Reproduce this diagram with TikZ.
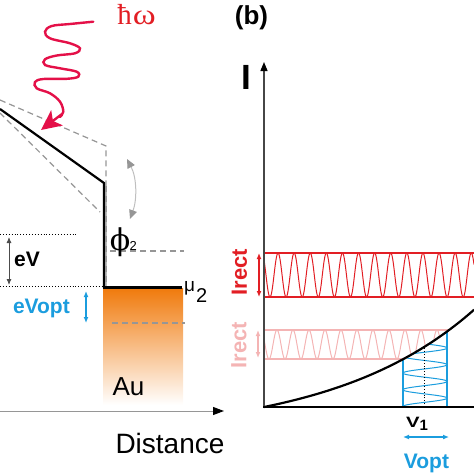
\documentclass[tikz,border=0pt]{standalone}
\usepackage{fontspec}
\setmainfont{Liberation Sans}
\newfontfamily\serifff{Liberation Serif}
\newfontfamily\dvserif{DejaVu Serif}
\usetikzlibrary{arrows.meta}
\definecolor{mred}{RGB}{226,30,36}
\definecolor{mpink}{RGB}{244,180,180}
\definecolor{mblue}{RGB}{27,157,222}
\definecolor{morange}{RGB}{240,122,12}
\definecolor{mcrimson}{RGB}{228,16,72}
\definecolor{mgray}{RGB}{150,150,150}
\definecolor{maxis}{RGB}{70,70,70}
\tikzset{
  txt/.style={inner sep=0pt, outer sep=0pt},
  gdash/.style={mgray, line width=1.2pt, dash pattern=on 6pt off 4pt},
  dbl/.style={{Latex[length=6pt,width=5pt]}-{Latex[length=6pt,width=5pt]}},
}
\newcommand{\ivcurve}{407-29*(exp(0.007*(\x-264))-1)}
\begin{document}
\begin{tikzpicture}[x=1pt,y=-1pt]
\useasboundingbox (0,0) rectangle (474,474);
% ---------------- panel a ----------------
\shade[top color=morange, bottom color=white] (103,288) rectangle (183,405);
\draw[gdash] (0,100) -- (106,146) -- (106,287);
\draw[gdash] (0,113) -- (100,212);
\draw[line width=2.2pt] (0,109) -- (104,183) -- (104,288);
\draw[gdash] (106,186) -- (106,287);
\draw[line width=3pt] (103,287) -- (182,287);
\draw[gdash] (110,251) -- (184,251);
\draw[gdash] (112,323) -- (185,323);
\draw[black!25, line width=1pt, {Triangle[length=9pt,width=8pt,color=mgray]}-{Triangle[length=9pt,width=8pt,color=mgray]}]
  (127,159) .. controls (137,178) and (137,200) .. (130,219);
\draw[dotted, line width=0.9pt] (0,234) -- (77,234);
\draw[dotted, line width=0.9pt] (0,286) -- (103,286);
\draw[dbl, black!70, line width=0.8pt] (9,237) -- (9,285);
\draw[dbl, mblue, line width=1.3pt] (86,291) -- (86,323);
\draw[mgray, line width=1pt, -{Triangle[length=11pt,width=8pt,color=black]}] (0,411) -- (224,411);
% photon
\draw[mcrimson, line width=2.4pt, line cap=round] plot[smooth, tension=0.6] coordinates {
 (93.3,21.7) (70,24) (51.7,26) (45,31.7) (50,38.3) (70,43.3) (80,48.3) (75,53.3)
 (56.7,55.5) (45,59.3) (45,65) (60,68.3) (76.7,71.7) (78.3,76.7) (66.7,78.8)
 (43.3,79) (35,82) (36.7,88.3) (50,93.3) (60,101.7) (63.3,111.7) (60,117)};
\draw[mcrimson, line width=2.4pt, -{Stealth[length=20pt,width=19pt,inset=5pt]}] (62,114) -- (41,130);
\node[txt, mred, font=\serifff\fontsize{29}{31}\selectfont] (hw) at (136.5,15) {ħ\kern1pt\scalebox{1.2}[1]{ω}};
\node[txt, font=\dvserif\fontsize{30}{32}\selectfont] (phi) at (120,242.5) {ϕ};
\node[txt, anchor=base west, font=\fontsize{13}{14}\selectfont] (phisub) at (129.5,250) {2};
\node[txt, font=\bfseries\fontsize{21}{24}\selectfont] (ev) at (27,259) {eV};
\node[txt, anchor=base west, mblue, font=\bfseries\fontsize{21}{24}\selectfont] (evopt) at (13,313) {eVopt};
\node[txt, anchor=base west, font=\fontsize{19}{20}\selectfont] (mu) at (184,291) {μ};
\node[txt, anchor=base west, font=\fontsize{20}{22}\selectfont] (mutwo) at (196,302) {2};
\node[txt, font=\fontsize{26}{28}\selectfont] (au) at (128.5,386.5) {Au};
\node[txt, font=\fontsize{28}{30}\selectfont] (dist) at (170,443) {Distance};
% ---------------- panel b ----------------
\node[txt, font=\bfseries\fontsize{26}{28}\selectfont] (b) at (251.5,17.5) {(b)};
\node[txt, font=\bfseries\fontsize{35}{38}\selectfont] (I) at (246.5,77.5) {I};
% red
\draw[mred, line width=1.2pt] (264,253) -- (474,253);
\draw[mred, line width=1.2pt] (264,297) -- (474,297);
\draw[mred, line width=1pt] plot[domain=264:474, samples=420, smooth] (\x,{275+22*cos(22.36*(\x-270))});
\draw[dbl, mred, line width=1.3pt] (259,253) -- (259,297);
\node[txt, rotate=90, mred, font=\bfseries\fontsize{22}{24}\selectfont] (irect) at (239.5,272) {Irect};
% pink
\begin{scope}
\clip (264,300) -- (264,407) -- plot[domain=264:474, samples=60] (\x,{\ivcurve}) -- (474,300) -- cycle;
\draw[mpink, line width=1.2pt] (264,330) -- (474,330);
\draw[mpink, line width=1.2pt] (264,359) -- (474,359);
\draw[mpink, line width=1pt] plot[domain=264:474, samples=420, smooth] (\x,{344.5+14.5*cos(22.5*(\x-269))});
\end{scope}
\draw[dbl, mpink, line width=1.2pt] (258,330) -- (258,358);
\node[txt, rotate=90, mpink, font=\bfseries\fontsize{22}{24}\selectfont] (irectp) at (239,345) {Irect};
% blue
\begin{scope}
\clip (264,407) -- plot[domain=264:474, samples=60] (\x,{\ivcurve}) -- (474,410) -- (264,410) -- cycle;
\draw[mblue, line width=1.2pt] (403,407) -- (403,300);
\draw[mblue, line width=1.2pt] (447,407) -- (447,300);
\draw[mblue, line width=1pt] plot[domain=320:407, samples=300, smooth] ({425+22*cos(21.557*(\x-348))},\x);
\draw[dotted, line width=0.9pt] (424,407) -- (424,300);
\end{scope}
\draw[line width=2.2pt] plot[domain=264:474, samples=80, smooth] (\x,{\ivcurve});
\draw[maxis, line width=1.3pt, -{Triangle[length=9pt,width=7pt,color=black]}] (264,408) -- (264,62);
\draw[line width=1.8pt] (263,407) -- (474,407);
\draw[dbl, mblue, line width=1.3pt] (403,437) -- (449,437);
\node[txt, anchor=base west, font=\bfseries\fontsize{15}{16}\selectfont] (v1) at (406,427.5) {\scalebox{1.35}[1]{V}\raisebox{-3pt}{1}};
\node[txt, anchor=base, mblue, font=\bfseries\fontsize{21}{22}\selectfont] (vopt) at (426.5,468) {Vopt};
\end{tikzpicture}
\end{document}
